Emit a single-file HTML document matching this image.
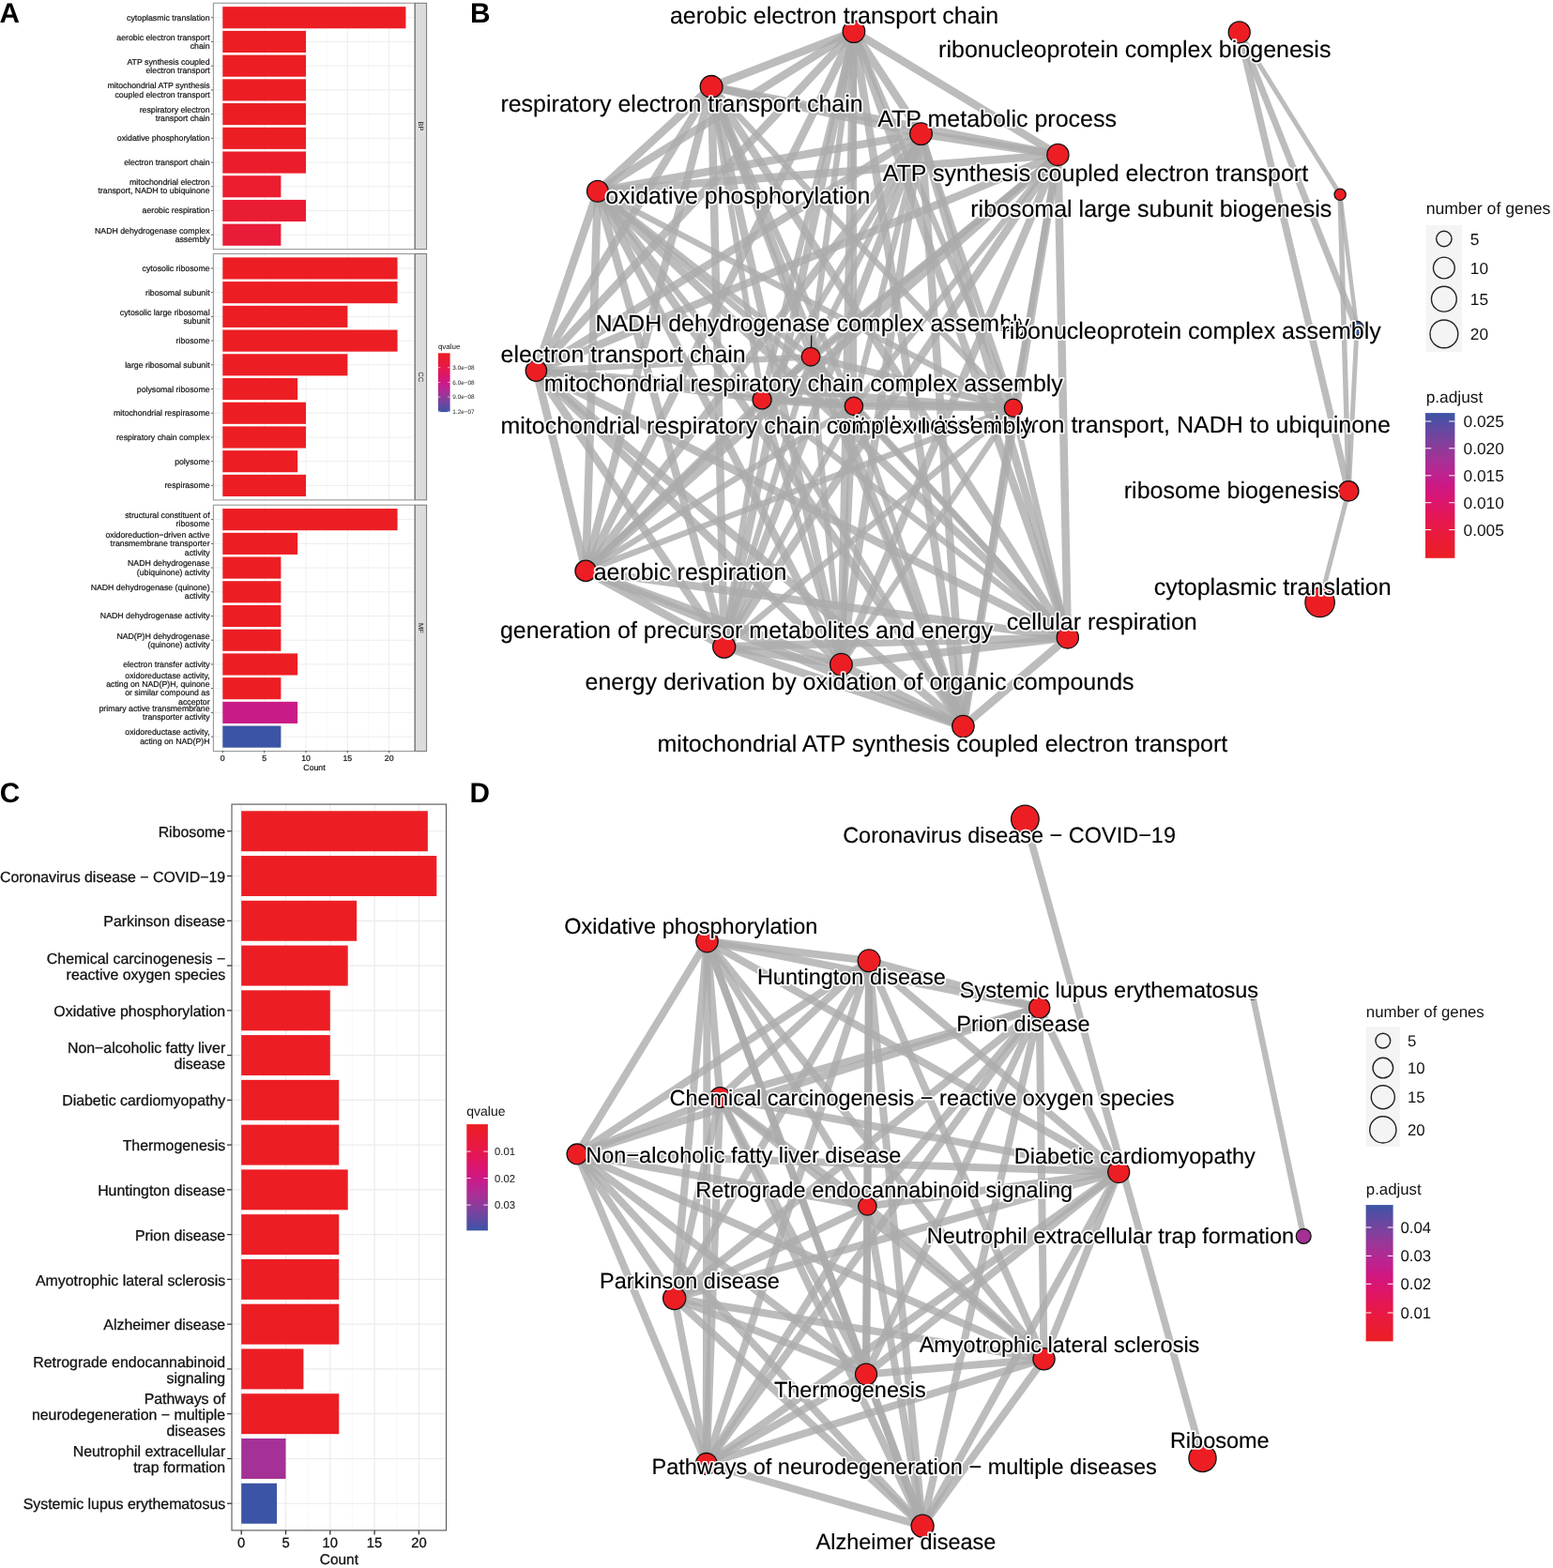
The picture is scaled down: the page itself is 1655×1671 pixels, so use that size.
<!DOCTYPE html>
<html><head><meta charset="utf-8"><title>Enrichment figure</title>
<style>html,body{margin:0;padding:0;background:#fff;}svg{display:block;}</style>
</head><body>
<svg width="1655" height="1671" viewBox="0 0 1655 1671" font-family="'Liberation Sans', sans-serif" text-rendering="geometricPrecision"><defs><linearGradient id="gA" x1="0" y1="0" x2="0" y2="1"><stop offset="0.00" stop-color="#ec1e24"/><stop offset="0.10" stop-color="#ea1c32"/><stop offset="0.20" stop-color="#e81942"/><stop offset="0.30" stop-color="#e31658"/><stop offset="0.40" stop-color="#da156e"/><stop offset="0.50" stop-color="#cd1884"/><stop offset="0.60" stop-color="#b82692"/><stop offset="0.70" stop-color="#9f3497"/><stop offset="0.80" stop-color="#80409d"/><stop offset="0.90" stop-color="#5f4aa2"/><stop offset="1.00" stop-color="#3b54a5"/></linearGradient><linearGradient id="gC" x1="0" y1="0" x2="0" y2="1"><stop offset="0.00" stop-color="#ec1e24"/><stop offset="0.10" stop-color="#ea1c32"/><stop offset="0.20" stop-color="#e81942"/><stop offset="0.30" stop-color="#e31658"/><stop offset="0.40" stop-color="#da156e"/><stop offset="0.50" stop-color="#cd1884"/><stop offset="0.60" stop-color="#b82692"/><stop offset="0.70" stop-color="#9f3497"/><stop offset="0.80" stop-color="#80409d"/><stop offset="0.90" stop-color="#5f4aa2"/><stop offset="1.00" stop-color="#3b54a5"/></linearGradient><linearGradient id="gB" x1="0" y1="0" x2="0" y2="1"><stop offset="0.00" stop-color="#3b54a5"/><stop offset="0.10" stop-color="#5f4aa2"/><stop offset="0.20" stop-color="#80409d"/><stop offset="0.30" stop-color="#9f3497"/><stop offset="0.40" stop-color="#b82692"/><stop offset="0.50" stop-color="#cd1884"/><stop offset="0.60" stop-color="#da156e"/><stop offset="0.70" stop-color="#e31658"/><stop offset="0.80" stop-color="#e81942"/><stop offset="0.90" stop-color="#ea1c32"/><stop offset="1.00" stop-color="#ec1e24"/></linearGradient><linearGradient id="gD" x1="0" y1="0" x2="0" y2="1"><stop offset="0.00" stop-color="#3b54a5"/><stop offset="0.10" stop-color="#5f4aa2"/><stop offset="0.20" stop-color="#80409d"/><stop offset="0.30" stop-color="#9f3497"/><stop offset="0.40" stop-color="#b82692"/><stop offset="0.50" stop-color="#cd1884"/><stop offset="0.60" stop-color="#da156e"/><stop offset="0.70" stop-color="#e31658"/><stop offset="0.80" stop-color="#e81942"/><stop offset="0.90" stop-color="#ea1c32"/><stop offset="1.00" stop-color="#ec1e24"/></linearGradient></defs><rect width="1655" height="1671" fill="#fff"/><text x="-0.50" y="23.90" font-size="29.8" font-weight="bold">A</text>
<text x="501.00" y="23.90" font-size="29.8" font-weight="bold">B</text>
<text x="-0.30" y="854.70" font-size="29.8" font-weight="bold">C</text>
<text x="500.50" y="854.70" font-size="29.8" font-weight="bold">D</text>
<rect x="227.40" y="3.30" width="214.50" height="262.34" fill="#fff"/>
<line x1="259.48" y1="3.30" x2="259.48" y2="265.64" stroke="#f2f2f2" stroke-width="0.5"/>
<line x1="303.82" y1="3.30" x2="303.82" y2="265.64" stroke="#f2f2f2" stroke-width="0.5"/>
<line x1="348.18" y1="3.30" x2="348.18" y2="265.64" stroke="#f2f2f2" stroke-width="0.5"/>
<line x1="392.52" y1="3.30" x2="392.52" y2="265.64" stroke="#f2f2f2" stroke-width="0.5"/>
<line x1="436.88" y1="3.30" x2="436.88" y2="265.64" stroke="#f2f2f2" stroke-width="0.5"/>
<line x1="237.30" y1="3.30" x2="237.30" y2="265.64" stroke="#ebebeb" stroke-width="0.9"/>
<line x1="281.65" y1="3.30" x2="281.65" y2="265.64" stroke="#ebebeb" stroke-width="0.9"/>
<line x1="326.00" y1="3.30" x2="326.00" y2="265.64" stroke="#ebebeb" stroke-width="0.9"/>
<line x1="370.35" y1="3.30" x2="370.35" y2="265.64" stroke="#ebebeb" stroke-width="0.9"/>
<line x1="414.70" y1="3.30" x2="414.70" y2="265.64" stroke="#ebebeb" stroke-width="0.9"/>
<line x1="227.40" y1="18.73" x2="441.90" y2="18.73" stroke="#ebebeb" stroke-width="0.9"/>
<line x1="227.40" y1="44.45" x2="441.90" y2="44.45" stroke="#ebebeb" stroke-width="0.9"/>
<line x1="227.40" y1="70.17" x2="441.90" y2="70.17" stroke="#ebebeb" stroke-width="0.9"/>
<line x1="227.40" y1="95.89" x2="441.90" y2="95.89" stroke="#ebebeb" stroke-width="0.9"/>
<line x1="227.40" y1="121.61" x2="441.90" y2="121.61" stroke="#ebebeb" stroke-width="0.9"/>
<line x1="227.40" y1="147.33" x2="441.90" y2="147.33" stroke="#ebebeb" stroke-width="0.9"/>
<line x1="227.40" y1="173.05" x2="441.90" y2="173.05" stroke="#ebebeb" stroke-width="0.9"/>
<line x1="227.40" y1="198.77" x2="441.90" y2="198.77" stroke="#ebebeb" stroke-width="0.9"/>
<line x1="227.40" y1="224.49" x2="441.90" y2="224.49" stroke="#ebebeb" stroke-width="0.9"/>
<line x1="227.40" y1="250.21" x2="441.90" y2="250.21" stroke="#ebebeb" stroke-width="0.9"/>
<rect x="237.30" y="7.16" width="195.14" height="23.15" fill="#ec1e24"/>
<text x="223.60" y="21.71" font-size="8.75" stroke="#111" stroke-width="0.2" text-anchor="end" fill="#111">cytoplasmic translation</text>
<line x1="225.00" y1="18.73" x2="227.40" y2="18.73" stroke="#333" stroke-width="0.8"/>
<rect x="237.30" y="32.88" width="88.70" height="23.15" fill="#ec1e24"/>
<text x="223.60" y="42.78" font-size="8.75" stroke="#111" stroke-width="0.2" text-anchor="end" fill="#111">aerobic electron transport</text>
<text x="223.60" y="52.08" font-size="8.75" stroke="#111" stroke-width="0.2" text-anchor="end" fill="#111">chain</text>
<line x1="225.00" y1="44.45" x2="227.40" y2="44.45" stroke="#333" stroke-width="0.8"/>
<rect x="237.30" y="58.60" width="88.70" height="23.15" fill="#ec1e24"/>
<text x="223.60" y="68.50" font-size="8.75" stroke="#111" stroke-width="0.2" text-anchor="end" fill="#111">ATP synthesis coupled</text>
<text x="223.60" y="77.80" font-size="8.75" stroke="#111" stroke-width="0.2" text-anchor="end" fill="#111">electron transport</text>
<line x1="225.00" y1="70.17" x2="227.40" y2="70.17" stroke="#333" stroke-width="0.8"/>
<rect x="237.30" y="84.32" width="88.70" height="23.15" fill="#ec1e24"/>
<text x="223.60" y="94.22" font-size="8.75" stroke="#111" stroke-width="0.2" text-anchor="end" fill="#111">mitochondrial ATP synthesis</text>
<text x="223.60" y="103.52" font-size="8.75" stroke="#111" stroke-width="0.2" text-anchor="end" fill="#111">coupled electron transport</text>
<line x1="225.00" y1="95.89" x2="227.40" y2="95.89" stroke="#333" stroke-width="0.8"/>
<rect x="237.30" y="110.04" width="88.70" height="23.15" fill="#ec1e24"/>
<text x="223.60" y="119.94" font-size="8.75" stroke="#111" stroke-width="0.2" text-anchor="end" fill="#111">respiratory electron</text>
<text x="223.60" y="129.24" font-size="8.75" stroke="#111" stroke-width="0.2" text-anchor="end" fill="#111">transport chain</text>
<line x1="225.00" y1="121.61" x2="227.40" y2="121.61" stroke="#333" stroke-width="0.8"/>
<rect x="237.30" y="135.76" width="88.70" height="23.15" fill="#ec1e25"/>
<text x="223.60" y="150.31" font-size="8.75" stroke="#111" stroke-width="0.2" text-anchor="end" fill="#111">oxidative phosphorylation</text>
<line x1="225.00" y1="147.33" x2="227.40" y2="147.33" stroke="#333" stroke-width="0.8"/>
<rect x="237.30" y="161.48" width="88.70" height="23.15" fill="#eb1d2b"/>
<text x="223.60" y="176.03" font-size="8.75" stroke="#111" stroke-width="0.2" text-anchor="end" fill="#111">electron transport chain</text>
<line x1="225.00" y1="173.05" x2="227.40" y2="173.05" stroke="#333" stroke-width="0.8"/>
<rect x="237.30" y="187.20" width="62.09" height="23.15" fill="#eb1d2e"/>
<text x="223.60" y="197.10" font-size="8.75" stroke="#111" stroke-width="0.2" text-anchor="end" fill="#111">mitochondrial electron</text>
<text x="223.60" y="206.40" font-size="8.75" stroke="#111" stroke-width="0.2" text-anchor="end" fill="#111">transport, NADH to ubiquinone</text>
<line x1="225.00" y1="198.77" x2="227.40" y2="198.77" stroke="#333" stroke-width="0.8"/>
<rect x="237.30" y="212.92" width="88.70" height="23.15" fill="#ea1c34"/>
<text x="223.60" y="227.47" font-size="8.75" stroke="#111" stroke-width="0.2" text-anchor="end" fill="#111">aerobic respiration</text>
<line x1="225.00" y1="224.49" x2="227.40" y2="224.49" stroke="#333" stroke-width="0.8"/>
<rect x="237.30" y="238.64" width="62.09" height="23.15" fill="#e91b38"/>
<text x="223.60" y="248.54" font-size="8.75" stroke="#111" stroke-width="0.2" text-anchor="end" fill="#111">NADH dehydrogenase complex</text>
<text x="223.60" y="257.84" font-size="8.75" stroke="#111" stroke-width="0.2" text-anchor="end" fill="#111">assembly</text>
<line x1="225.00" y1="250.21" x2="227.40" y2="250.21" stroke="#333" stroke-width="0.8"/>
<rect x="227.40" y="3.30" width="214.50" height="262.34" fill="none" stroke="#999" stroke-width="1.1"/>
<rect x="442.40" y="3.30" width="12.20" height="262.34" fill="#dcdcdc" stroke="#777" stroke-width="1.0"/>
<text x="448.25" y="134.47" font-size="7.5" text-anchor="middle" fill="#1a1a1a" transform="rotate(90 448.25 134.47)" dominant-baseline="central">BP</text>
<rect x="227.40" y="270.50" width="214.50" height="262.34" fill="#fff"/>
<line x1="259.48" y1="270.50" x2="259.48" y2="532.84" stroke="#f2f2f2" stroke-width="0.5"/>
<line x1="303.82" y1="270.50" x2="303.82" y2="532.84" stroke="#f2f2f2" stroke-width="0.5"/>
<line x1="348.18" y1="270.50" x2="348.18" y2="532.84" stroke="#f2f2f2" stroke-width="0.5"/>
<line x1="392.52" y1="270.50" x2="392.52" y2="532.84" stroke="#f2f2f2" stroke-width="0.5"/>
<line x1="436.88" y1="270.50" x2="436.88" y2="532.84" stroke="#f2f2f2" stroke-width="0.5"/>
<line x1="237.30" y1="270.50" x2="237.30" y2="532.84" stroke="#ebebeb" stroke-width="0.9"/>
<line x1="281.65" y1="270.50" x2="281.65" y2="532.84" stroke="#ebebeb" stroke-width="0.9"/>
<line x1="326.00" y1="270.50" x2="326.00" y2="532.84" stroke="#ebebeb" stroke-width="0.9"/>
<line x1="370.35" y1="270.50" x2="370.35" y2="532.84" stroke="#ebebeb" stroke-width="0.9"/>
<line x1="414.70" y1="270.50" x2="414.70" y2="532.84" stroke="#ebebeb" stroke-width="0.9"/>
<line x1="227.40" y1="285.93" x2="441.90" y2="285.93" stroke="#ebebeb" stroke-width="0.9"/>
<line x1="227.40" y1="311.65" x2="441.90" y2="311.65" stroke="#ebebeb" stroke-width="0.9"/>
<line x1="227.40" y1="337.37" x2="441.90" y2="337.37" stroke="#ebebeb" stroke-width="0.9"/>
<line x1="227.40" y1="363.09" x2="441.90" y2="363.09" stroke="#ebebeb" stroke-width="0.9"/>
<line x1="227.40" y1="388.81" x2="441.90" y2="388.81" stroke="#ebebeb" stroke-width="0.9"/>
<line x1="227.40" y1="414.53" x2="441.90" y2="414.53" stroke="#ebebeb" stroke-width="0.9"/>
<line x1="227.40" y1="440.25" x2="441.90" y2="440.25" stroke="#ebebeb" stroke-width="0.9"/>
<line x1="227.40" y1="465.97" x2="441.90" y2="465.97" stroke="#ebebeb" stroke-width="0.9"/>
<line x1="227.40" y1="491.69" x2="441.90" y2="491.69" stroke="#ebebeb" stroke-width="0.9"/>
<line x1="227.40" y1="517.41" x2="441.90" y2="517.41" stroke="#ebebeb" stroke-width="0.9"/>
<rect x="237.30" y="274.36" width="186.27" height="23.15" fill="#ec1e24"/>
<text x="223.60" y="288.91" font-size="8.75" stroke="#111" stroke-width="0.2" text-anchor="end" fill="#111">cytosolic ribosome</text>
<line x1="225.00" y1="285.93" x2="227.40" y2="285.93" stroke="#333" stroke-width="0.8"/>
<rect x="237.30" y="300.08" width="186.27" height="23.15" fill="#ec1e24"/>
<text x="223.60" y="314.63" font-size="8.75" stroke="#111" stroke-width="0.2" text-anchor="end" fill="#111">ribosomal subunit</text>
<line x1="225.00" y1="311.65" x2="227.40" y2="311.65" stroke="#333" stroke-width="0.8"/>
<rect x="237.30" y="325.80" width="133.05" height="23.15" fill="#ec1e24"/>
<text x="223.60" y="335.70" font-size="8.75" stroke="#111" stroke-width="0.2" text-anchor="end" fill="#111">cytosolic large ribosomal</text>
<text x="223.60" y="345.00" font-size="8.75" stroke="#111" stroke-width="0.2" text-anchor="end" fill="#111">subunit</text>
<line x1="225.00" y1="337.37" x2="227.40" y2="337.37" stroke="#333" stroke-width="0.8"/>
<rect x="237.30" y="351.52" width="186.27" height="23.15" fill="#ec1e24"/>
<text x="223.60" y="366.07" font-size="8.75" stroke="#111" stroke-width="0.2" text-anchor="end" fill="#111">ribosome</text>
<line x1="225.00" y1="363.09" x2="227.40" y2="363.09" stroke="#333" stroke-width="0.8"/>
<rect x="237.30" y="377.24" width="133.05" height="23.15" fill="#ec1e24"/>
<text x="223.60" y="391.79" font-size="8.75" stroke="#111" stroke-width="0.2" text-anchor="end" fill="#111">large ribosomal subunit</text>
<line x1="225.00" y1="388.81" x2="227.40" y2="388.81" stroke="#333" stroke-width="0.8"/>
<rect x="237.30" y="402.96" width="79.83" height="23.15" fill="#ec1e24"/>
<text x="223.60" y="417.51" font-size="8.75" stroke="#111" stroke-width="0.2" text-anchor="end" fill="#111">polysomal ribosome</text>
<line x1="225.00" y1="414.53" x2="227.40" y2="414.53" stroke="#333" stroke-width="0.8"/>
<rect x="237.30" y="428.68" width="88.70" height="23.15" fill="#ec1e24"/>
<text x="223.60" y="443.23" font-size="8.75" stroke="#111" stroke-width="0.2" text-anchor="end" fill="#111">mitochondrial respirasome</text>
<line x1="225.00" y1="440.25" x2="227.40" y2="440.25" stroke="#333" stroke-width="0.8"/>
<rect x="237.30" y="454.40" width="88.70" height="23.15" fill="#ec1e24"/>
<text x="223.60" y="468.95" font-size="8.75" stroke="#111" stroke-width="0.2" text-anchor="end" fill="#111">respiratory chain complex</text>
<line x1="225.00" y1="465.97" x2="227.40" y2="465.97" stroke="#333" stroke-width="0.8"/>
<rect x="237.30" y="480.12" width="79.83" height="23.15" fill="#ec1e24"/>
<text x="223.60" y="494.67" font-size="8.75" stroke="#111" stroke-width="0.2" text-anchor="end" fill="#111">polysome</text>
<line x1="225.00" y1="491.69" x2="227.40" y2="491.69" stroke="#333" stroke-width="0.8"/>
<rect x="237.30" y="505.84" width="88.70" height="23.15" fill="#ec1e24"/>
<text x="223.60" y="520.39" font-size="8.75" stroke="#111" stroke-width="0.2" text-anchor="end" fill="#111">respirasome</text>
<line x1="225.00" y1="517.41" x2="227.40" y2="517.41" stroke="#333" stroke-width="0.8"/>
<rect x="227.40" y="270.50" width="214.50" height="262.34" fill="none" stroke="#999" stroke-width="1.1"/>
<rect x="442.40" y="270.50" width="12.20" height="262.34" fill="#dcdcdc" stroke="#777" stroke-width="1.0"/>
<text x="448.25" y="401.67" font-size="7.5" text-anchor="middle" fill="#1a1a1a" transform="rotate(90 448.25 401.67)" dominant-baseline="central">CC</text>
<rect x="227.40" y="538.20" width="214.50" height="262.34" fill="#fff"/>
<line x1="259.48" y1="538.20" x2="259.48" y2="800.54" stroke="#f2f2f2" stroke-width="0.5"/>
<line x1="303.82" y1="538.20" x2="303.82" y2="800.54" stroke="#f2f2f2" stroke-width="0.5"/>
<line x1="348.18" y1="538.20" x2="348.18" y2="800.54" stroke="#f2f2f2" stroke-width="0.5"/>
<line x1="392.52" y1="538.20" x2="392.52" y2="800.54" stroke="#f2f2f2" stroke-width="0.5"/>
<line x1="436.88" y1="538.20" x2="436.88" y2="800.54" stroke="#f2f2f2" stroke-width="0.5"/>
<line x1="237.30" y1="538.20" x2="237.30" y2="800.54" stroke="#ebebeb" stroke-width="0.9"/>
<line x1="281.65" y1="538.20" x2="281.65" y2="800.54" stroke="#ebebeb" stroke-width="0.9"/>
<line x1="326.00" y1="538.20" x2="326.00" y2="800.54" stroke="#ebebeb" stroke-width="0.9"/>
<line x1="370.35" y1="538.20" x2="370.35" y2="800.54" stroke="#ebebeb" stroke-width="0.9"/>
<line x1="414.70" y1="538.20" x2="414.70" y2="800.54" stroke="#ebebeb" stroke-width="0.9"/>
<line x1="227.40" y1="553.63" x2="441.90" y2="553.63" stroke="#ebebeb" stroke-width="0.9"/>
<line x1="227.40" y1="579.35" x2="441.90" y2="579.35" stroke="#ebebeb" stroke-width="0.9"/>
<line x1="227.40" y1="605.07" x2="441.90" y2="605.07" stroke="#ebebeb" stroke-width="0.9"/>
<line x1="227.40" y1="630.79" x2="441.90" y2="630.79" stroke="#ebebeb" stroke-width="0.9"/>
<line x1="227.40" y1="656.51" x2="441.90" y2="656.51" stroke="#ebebeb" stroke-width="0.9"/>
<line x1="227.40" y1="682.23" x2="441.90" y2="682.23" stroke="#ebebeb" stroke-width="0.9"/>
<line x1="227.40" y1="707.95" x2="441.90" y2="707.95" stroke="#ebebeb" stroke-width="0.9"/>
<line x1="227.40" y1="733.67" x2="441.90" y2="733.67" stroke="#ebebeb" stroke-width="0.9"/>
<line x1="227.40" y1="759.39" x2="441.90" y2="759.39" stroke="#ebebeb" stroke-width="0.9"/>
<line x1="227.40" y1="785.11" x2="441.90" y2="785.11" stroke="#ebebeb" stroke-width="0.9"/>
<rect x="237.30" y="542.06" width="186.27" height="23.15" fill="#ec1e24"/>
<text x="223.60" y="551.96" font-size="8.75" stroke="#111" stroke-width="0.2" text-anchor="end" fill="#111">structural constituent of</text>
<text x="223.60" y="561.26" font-size="8.75" stroke="#111" stroke-width="0.2" text-anchor="end" fill="#111">ribosome</text>
<line x1="225.00" y1="553.63" x2="227.40" y2="553.63" stroke="#333" stroke-width="0.8"/>
<rect x="237.30" y="567.78" width="79.83" height="23.15" fill="#ec1e24"/>
<text x="223.60" y="573.03" font-size="8.75" stroke="#111" stroke-width="0.2" text-anchor="end" fill="#111">oxidoreduction−driven active</text>
<text x="223.60" y="582.33" font-size="8.75" stroke="#111" stroke-width="0.2" text-anchor="end" fill="#111">transmembrane transporter</text>
<text x="223.60" y="591.63" font-size="8.75" stroke="#111" stroke-width="0.2" text-anchor="end" fill="#111">activity</text>
<line x1="225.00" y1="579.35" x2="227.40" y2="579.35" stroke="#333" stroke-width="0.8"/>
<rect x="237.30" y="593.50" width="62.09" height="23.15" fill="#ec1e24"/>
<text x="223.60" y="603.40" font-size="8.75" stroke="#111" stroke-width="0.2" text-anchor="end" fill="#111">NADH dehydrogenase</text>
<text x="223.60" y="612.70" font-size="8.75" stroke="#111" stroke-width="0.2" text-anchor="end" fill="#111">(ubiquinone) activity</text>
<line x1="225.00" y1="605.07" x2="227.40" y2="605.07" stroke="#333" stroke-width="0.8"/>
<rect x="237.30" y="619.22" width="62.09" height="23.15" fill="#ec1e24"/>
<text x="223.60" y="629.12" font-size="8.75" stroke="#111" stroke-width="0.2" text-anchor="end" fill="#111">NADH dehydrogenase (quinone)</text>
<text x="223.60" y="638.42" font-size="8.75" stroke="#111" stroke-width="0.2" text-anchor="end" fill="#111">activity</text>
<line x1="225.00" y1="630.79" x2="227.40" y2="630.79" stroke="#333" stroke-width="0.8"/>
<rect x="237.30" y="644.94" width="62.09" height="23.15" fill="#ec1e24"/>
<text x="223.60" y="659.49" font-size="8.75" stroke="#111" stroke-width="0.2" text-anchor="end" fill="#111">NADH dehydrogenase activity</text>
<line x1="225.00" y1="656.51" x2="227.40" y2="656.51" stroke="#333" stroke-width="0.8"/>
<rect x="237.30" y="670.66" width="62.09" height="23.15" fill="#ec1e24"/>
<text x="223.60" y="680.56" font-size="8.75" stroke="#111" stroke-width="0.2" text-anchor="end" fill="#111">NAD(P)H dehydrogenase</text>
<text x="223.60" y="689.86" font-size="8.75" stroke="#111" stroke-width="0.2" text-anchor="end" fill="#111">(quinone) activity</text>
<line x1="225.00" y1="682.23" x2="227.40" y2="682.23" stroke="#333" stroke-width="0.8"/>
<rect x="237.30" y="696.38" width="79.83" height="23.15" fill="#ec1e24"/>
<text x="223.60" y="710.93" font-size="8.75" stroke="#111" stroke-width="0.2" text-anchor="end" fill="#111">electron transfer activity</text>
<line x1="225.00" y1="707.95" x2="227.40" y2="707.95" stroke="#333" stroke-width="0.8"/>
<rect x="237.30" y="722.10" width="62.09" height="23.15" fill="#ec1e24"/>
<text x="223.60" y="722.70" font-size="8.75" stroke="#111" stroke-width="0.2" text-anchor="end" fill="#111">oxidoreductase activity,</text>
<text x="223.60" y="732.00" font-size="8.75" stroke="#111" stroke-width="0.2" text-anchor="end" fill="#111">acting on NAD(P)H, quinone</text>
<text x="223.60" y="741.30" font-size="8.75" stroke="#111" stroke-width="0.2" text-anchor="end" fill="#111">or similar compound as</text>
<text x="223.60" y="750.60" font-size="8.75" stroke="#111" stroke-width="0.2" text-anchor="end" fill="#111">acceptor</text>
<line x1="225.00" y1="733.67" x2="227.40" y2="733.67" stroke="#333" stroke-width="0.8"/>
<rect x="237.30" y="747.82" width="79.83" height="23.15" fill="#c91b87"/>
<text x="223.60" y="757.72" font-size="8.75" stroke="#111" stroke-width="0.2" text-anchor="end" fill="#111">primary active transmembrane</text>
<text x="223.60" y="767.02" font-size="8.75" stroke="#111" stroke-width="0.2" text-anchor="end" fill="#111">transporter activity</text>
<line x1="225.00" y1="759.39" x2="227.40" y2="759.39" stroke="#333" stroke-width="0.8"/>
<rect x="237.30" y="773.54" width="62.09" height="23.15" fill="#3b54a5"/>
<text x="223.60" y="783.44" font-size="8.75" stroke="#111" stroke-width="0.2" text-anchor="end" fill="#111">oxidoreductase activity,</text>
<text x="223.60" y="792.74" font-size="8.75" stroke="#111" stroke-width="0.2" text-anchor="end" fill="#111">acting on NAD(P)H</text>
<line x1="225.00" y1="785.11" x2="227.40" y2="785.11" stroke="#333" stroke-width="0.8"/>
<rect x="227.40" y="538.20" width="214.50" height="262.34" fill="none" stroke="#999" stroke-width="1.1"/>
<rect x="442.40" y="538.20" width="12.20" height="262.34" fill="#dcdcdc" stroke="#777" stroke-width="1.0"/>
<text x="448.25" y="669.37" font-size="7.5" text-anchor="middle" fill="#1a1a1a" transform="rotate(90 448.25 669.37)" dominant-baseline="central">MF</text>
<line x1="237.30" y1="800.00" x2="237.30" y2="802.40" stroke="#333" stroke-width="0.8"/>
<text x="237.30" y="810.90" font-size="8.75" stroke="#111" stroke-width="0.2" text-anchor="middle" fill="#111">0</text>
<line x1="281.65" y1="800.00" x2="281.65" y2="802.40" stroke="#333" stroke-width="0.8"/>
<text x="281.65" y="810.90" font-size="8.75" stroke="#111" stroke-width="0.2" text-anchor="middle" fill="#111">5</text>
<line x1="326.00" y1="800.00" x2="326.00" y2="802.40" stroke="#333" stroke-width="0.8"/>
<text x="326.00" y="810.90" font-size="8.75" stroke="#111" stroke-width="0.2" text-anchor="middle" fill="#111">10</text>
<line x1="370.35" y1="800.00" x2="370.35" y2="802.40" stroke="#333" stroke-width="0.8"/>
<text x="370.35" y="810.90" font-size="8.75" stroke="#111" stroke-width="0.2" text-anchor="middle" fill="#111">15</text>
<line x1="414.70" y1="800.00" x2="414.70" y2="802.40" stroke="#333" stroke-width="0.8"/>
<text x="414.70" y="810.90" font-size="8.75" stroke="#111" stroke-width="0.2" text-anchor="middle" fill="#111">20</text>
<text x="335.00" y="821.20" font-size="8.75" stroke="#111" stroke-width="0.2" text-anchor="middle" fill="#111">Count</text>
<text x="466.90" y="371.60" font-size="8.0" fill="#111">qvalue</text>
<rect x="466.90" y="376.30" width="12.70" height="62.80" fill="url(#gA)"/>
<line x1="466.90" y1="391.70" x2="469.40" y2="391.70" stroke="#fff" stroke-width="0.6"/>
<line x1="477.10" y1="391.70" x2="479.60" y2="391.70" stroke="#fff" stroke-width="0.6"/>
<text x="482.30" y="394.00" font-size="6.4" fill="#222">3.0e−08</text>
<line x1="466.90" y1="407.40" x2="469.40" y2="407.40" stroke="#fff" stroke-width="0.6"/>
<line x1="477.10" y1="407.40" x2="479.60" y2="407.40" stroke="#fff" stroke-width="0.6"/>
<text x="482.30" y="409.70" font-size="6.4" fill="#222">6.0e−08</text>
<line x1="466.90" y1="423.10" x2="469.40" y2="423.10" stroke="#fff" stroke-width="0.6"/>
<line x1="477.10" y1="423.10" x2="479.60" y2="423.10" stroke="#fff" stroke-width="0.6"/>
<text x="482.30" y="425.40" font-size="6.4" fill="#222">9.0e−08</text>
<line x1="466.90" y1="438.40" x2="469.40" y2="438.40" stroke="#fff" stroke-width="0.6"/>
<line x1="477.10" y1="438.40" x2="479.60" y2="438.40" stroke="#fff" stroke-width="0.6"/>
<text x="482.30" y="440.70" font-size="6.4" fill="#222">1.2e−07</text>
<rect x="247.00" y="857.10" width="228.50" height="773.80" fill="#fff"/>
<line x1="280.85" y1="857.10" x2="280.85" y2="1630.90" stroke="#f4f4f4" stroke-width="0.7"/>
<line x1="328.15" y1="857.10" x2="328.15" y2="1630.90" stroke="#f4f4f4" stroke-width="0.7"/>
<line x1="375.45" y1="857.10" x2="375.45" y2="1630.90" stroke="#f4f4f4" stroke-width="0.7"/>
<line x1="422.75" y1="857.10" x2="422.75" y2="1630.90" stroke="#f4f4f4" stroke-width="0.7"/>
<line x1="470.05" y1="857.10" x2="470.05" y2="1630.90" stroke="#f4f4f4" stroke-width="0.7"/>
<line x1="257.20" y1="857.10" x2="257.20" y2="1630.90" stroke="#ebebeb" stroke-width="1.2"/>
<line x1="304.50" y1="857.10" x2="304.50" y2="1630.90" stroke="#ebebeb" stroke-width="1.2"/>
<line x1="351.80" y1="857.10" x2="351.80" y2="1630.90" stroke="#ebebeb" stroke-width="1.2"/>
<line x1="399.10" y1="857.10" x2="399.10" y2="1630.90" stroke="#ebebeb" stroke-width="1.2"/>
<line x1="446.40" y1="857.10" x2="446.40" y2="1630.90" stroke="#ebebeb" stroke-width="1.2"/>
<line x1="247.00" y1="885.76" x2="475.50" y2="885.76" stroke="#ebebeb" stroke-width="1.2"/>
<line x1="247.00" y1="933.52" x2="475.50" y2="933.52" stroke="#ebebeb" stroke-width="1.2"/>
<line x1="247.00" y1="981.29" x2="475.50" y2="981.29" stroke="#ebebeb" stroke-width="1.2"/>
<line x1="247.00" y1="1029.06" x2="475.50" y2="1029.06" stroke="#ebebeb" stroke-width="1.2"/>
<line x1="247.00" y1="1076.82" x2="475.50" y2="1076.82" stroke="#ebebeb" stroke-width="1.2"/>
<line x1="247.00" y1="1124.59" x2="475.50" y2="1124.59" stroke="#ebebeb" stroke-width="1.2"/>
<line x1="247.00" y1="1172.35" x2="475.50" y2="1172.35" stroke="#ebebeb" stroke-width="1.2"/>
<line x1="247.00" y1="1220.12" x2="475.50" y2="1220.12" stroke="#ebebeb" stroke-width="1.2"/>
<line x1="247.00" y1="1267.88" x2="475.50" y2="1267.88" stroke="#ebebeb" stroke-width="1.2"/>
<line x1="247.00" y1="1315.65" x2="475.50" y2="1315.65" stroke="#ebebeb" stroke-width="1.2"/>
<line x1="247.00" y1="1363.41" x2="475.50" y2="1363.41" stroke="#ebebeb" stroke-width="1.2"/>
<line x1="247.00" y1="1411.18" x2="475.50" y2="1411.18" stroke="#ebebeb" stroke-width="1.2"/>
<line x1="247.00" y1="1458.94" x2="475.50" y2="1458.94" stroke="#ebebeb" stroke-width="1.2"/>
<line x1="247.00" y1="1506.71" x2="475.50" y2="1506.71" stroke="#ebebeb" stroke-width="1.2"/>
<line x1="247.00" y1="1554.48" x2="475.50" y2="1554.48" stroke="#ebebeb" stroke-width="1.2"/>
<line x1="247.00" y1="1602.24" x2="475.50" y2="1602.24" stroke="#ebebeb" stroke-width="1.2"/>
<rect x="257.20" y="864.26" width="198.66" height="42.99" fill="#ec1e24"/>
<text x="240.20" y="891.88" font-size="15.9" stroke="#111" stroke-width="0.3" text-anchor="end" fill="#111">Ribosome</text>
<line x1="242.00" y1="885.76" x2="247.00" y2="885.76" stroke="#333" stroke-width="1.3"/>
<rect x="257.20" y="912.03" width="208.12" height="42.99" fill="#ec1e24"/>
<text x="240.20" y="939.65" font-size="15.9" stroke="#111" stroke-width="0.3" text-anchor="end" fill="#111">Coronavirus disease − COVID−19</text>
<line x1="242.00" y1="933.52" x2="247.00" y2="933.52" stroke="#333" stroke-width="1.3"/>
<rect x="257.20" y="959.80" width="122.98" height="42.99" fill="#ec1e24"/>
<text x="240.20" y="987.41" font-size="15.9" stroke="#111" stroke-width="0.3" text-anchor="end" fill="#111">Parkinson disease</text>
<line x1="242.00" y1="981.29" x2="247.00" y2="981.29" stroke="#333" stroke-width="1.3"/>
<rect x="257.20" y="1007.56" width="113.52" height="42.99" fill="#ec1e24"/>
<text x="240.20" y="1026.73" font-size="15.9" stroke="#111" stroke-width="0.3" text-anchor="end" fill="#111">Chemical carcinogenesis −</text>
<text x="240.20" y="1043.63" font-size="15.9" stroke="#111" stroke-width="0.3" text-anchor="end" fill="#111">reactive oxygen species</text>
<line x1="242.00" y1="1029.06" x2="247.00" y2="1029.06" stroke="#333" stroke-width="1.3"/>
<rect x="257.20" y="1055.33" width="94.60" height="42.99" fill="#ec1e24"/>
<text x="240.20" y="1082.94" font-size="15.9" stroke="#111" stroke-width="0.3" text-anchor="end" fill="#111">Oxidative phosphorylation</text>
<line x1="242.00" y1="1076.82" x2="247.00" y2="1076.82" stroke="#333" stroke-width="1.3"/>
<rect x="257.20" y="1103.09" width="94.60" height="42.99" fill="#ec1e24"/>
<text x="240.20" y="1122.26" font-size="15.9" stroke="#111" stroke-width="0.3" text-anchor="end" fill="#111">Non−alcoholic fatty liver</text>
<text x="240.20" y="1139.16" font-size="15.9" stroke="#111" stroke-width="0.3" text-anchor="end" fill="#111">disease</text>
<line x1="242.00" y1="1124.59" x2="247.00" y2="1124.59" stroke="#333" stroke-width="1.3"/>
<rect x="257.20" y="1150.86" width="104.06" height="42.99" fill="#ec1e24"/>
<text x="240.20" y="1178.48" font-size="15.9" stroke="#111" stroke-width="0.3" text-anchor="end" fill="#111">Diabetic cardiomyopathy</text>
<line x1="242.00" y1="1172.35" x2="247.00" y2="1172.35" stroke="#333" stroke-width="1.3"/>
<rect x="257.20" y="1198.62" width="104.06" height="42.99" fill="#ec1e24"/>
<text x="240.20" y="1226.24" font-size="15.9" stroke="#111" stroke-width="0.3" text-anchor="end" fill="#111">Thermogenesis</text>
<line x1="242.00" y1="1220.12" x2="247.00" y2="1220.12" stroke="#333" stroke-width="1.3"/>
<rect x="257.20" y="1246.39" width="113.52" height="42.99" fill="#ec1e24"/>
<text x="240.20" y="1274.01" font-size="15.9" stroke="#111" stroke-width="0.3" text-anchor="end" fill="#111">Huntington disease</text>
<line x1="242.00" y1="1267.88" x2="247.00" y2="1267.88" stroke="#333" stroke-width="1.3"/>
<rect x="257.20" y="1294.15" width="104.06" height="42.99" fill="#ec1e24"/>
<text x="240.20" y="1321.77" font-size="15.9" stroke="#111" stroke-width="0.3" text-anchor="end" fill="#111">Prion disease</text>
<line x1="242.00" y1="1315.65" x2="247.00" y2="1315.65" stroke="#333" stroke-width="1.3"/>
<rect x="257.20" y="1341.92" width="104.06" height="42.99" fill="#ec1e24"/>
<text x="240.20" y="1369.54" font-size="15.9" stroke="#111" stroke-width="0.3" text-anchor="end" fill="#111">Amyotrophic lateral sclerosis</text>
<line x1="242.00" y1="1363.41" x2="247.00" y2="1363.41" stroke="#333" stroke-width="1.3"/>
<rect x="257.20" y="1389.68" width="104.06" height="42.99" fill="#ec1e24"/>
<text x="240.20" y="1417.30" font-size="15.9" stroke="#111" stroke-width="0.3" text-anchor="end" fill="#111">Alzheimer disease</text>
<line x1="242.00" y1="1411.18" x2="247.00" y2="1411.18" stroke="#333" stroke-width="1.3"/>
<rect x="257.20" y="1437.45" width="66.22" height="42.99" fill="#ec1e24"/>
<text x="240.20" y="1456.62" font-size="15.9" stroke="#111" stroke-width="0.3" text-anchor="end" fill="#111">Retrograde endocannabinoid</text>
<text x="240.20" y="1473.52" font-size="15.9" stroke="#111" stroke-width="0.3" text-anchor="end" fill="#111">signaling</text>
<line x1="242.00" y1="1458.94" x2="247.00" y2="1458.94" stroke="#333" stroke-width="1.3"/>
<rect x="257.20" y="1485.22" width="104.06" height="42.99" fill="#ec1e24"/>
<text x="240.20" y="1495.93" font-size="15.9" stroke="#111" stroke-width="0.3" text-anchor="end" fill="#111">Pathways of</text>
<text x="240.20" y="1512.83" font-size="15.9" stroke="#111" stroke-width="0.3" text-anchor="end" fill="#111">neurodegeneration − multiple</text>
<text x="240.20" y="1529.73" font-size="15.9" stroke="#111" stroke-width="0.3" text-anchor="end" fill="#111">diseases</text>
<line x1="242.00" y1="1506.71" x2="247.00" y2="1506.71" stroke="#333" stroke-width="1.3"/>
<rect x="257.20" y="1532.98" width="47.30" height="42.99" fill="#a43196"/>
<text x="240.20" y="1552.15" font-size="15.9" stroke="#111" stroke-width="0.3" text-anchor="end" fill="#111">Neutrophil extracellular</text>
<text x="240.20" y="1569.05" font-size="15.9" stroke="#111" stroke-width="0.3" text-anchor="end" fill="#111">trap formation</text>
<line x1="242.00" y1="1554.48" x2="247.00" y2="1554.48" stroke="#333" stroke-width="1.3"/>
<rect x="257.20" y="1580.75" width="37.84" height="42.99" fill="#3b54a5"/>
<text x="240.20" y="1608.36" font-size="15.9" stroke="#111" stroke-width="0.3" text-anchor="end" fill="#111">Systemic lupus erythematosus</text>
<line x1="242.00" y1="1602.24" x2="247.00" y2="1602.24" stroke="#333" stroke-width="1.3"/>
<rect x="247.00" y="857.10" width="228.50" height="773.80" fill="none" stroke="#555" stroke-width="1.1"/>
<line x1="257.20" y1="1630.90" x2="257.20" y2="1635.40" stroke="#333" stroke-width="1.3"/>
<text x="257.20" y="1649.00" font-size="14.8" stroke="#111" stroke-width="0.3" text-anchor="middle" fill="#111">0</text>
<line x1="304.50" y1="1630.90" x2="304.50" y2="1635.40" stroke="#333" stroke-width="1.3"/>
<text x="304.50" y="1649.00" font-size="14.8" stroke="#111" stroke-width="0.3" text-anchor="middle" fill="#111">5</text>
<line x1="351.80" y1="1630.90" x2="351.80" y2="1635.40" stroke="#333" stroke-width="1.3"/>
<text x="351.80" y="1649.00" font-size="14.8" stroke="#111" stroke-width="0.3" text-anchor="middle" fill="#111">10</text>
<line x1="399.10" y1="1630.90" x2="399.10" y2="1635.40" stroke="#333" stroke-width="1.3"/>
<text x="399.10" y="1649.00" font-size="14.8" stroke="#111" stroke-width="0.3" text-anchor="middle" fill="#111">15</text>
<line x1="446.40" y1="1630.90" x2="446.40" y2="1635.40" stroke="#333" stroke-width="1.3"/>
<text x="446.40" y="1649.00" font-size="14.8" stroke="#111" stroke-width="0.3" text-anchor="middle" fill="#111">20</text>
<text x="361.40" y="1667.40" font-size="15.4" stroke="#111" stroke-width="0.3" text-anchor="middle" fill="#111">Count</text>
<text x="497.30" y="1188.50" font-size="14.0" fill="#111">qvalue</text>
<rect x="497.30" y="1198.10" width="22.60" height="113.30" fill="url(#gC)"/>
<line x1="497.30" y1="1227.10" x2="501.80" y2="1227.10" stroke="#fff" stroke-width="0.9"/>
<line x1="515.40" y1="1227.10" x2="519.90" y2="1227.10" stroke="#fff" stroke-width="0.9"/>
<text x="527.00" y="1231.20" font-size="11.4" fill="#111">0.01</text>
<line x1="497.30" y1="1255.60" x2="501.80" y2="1255.60" stroke="#fff" stroke-width="0.9"/>
<line x1="515.40" y1="1255.60" x2="519.90" y2="1255.60" stroke="#fff" stroke-width="0.9"/>
<text x="527.00" y="1259.70" font-size="11.4" fill="#111">0.02</text>
<line x1="497.30" y1="1284.10" x2="501.80" y2="1284.10" stroke="#fff" stroke-width="0.9"/>
<line x1="515.40" y1="1284.10" x2="519.90" y2="1284.10" stroke="#fff" stroke-width="0.9"/>
<text x="527.00" y="1288.20" font-size="11.4" fill="#111">0.03</text>
<g stroke="#ababab" stroke-opacity="0.8" stroke-linecap="butt"><line x1="909.9" y1="33.6" x2="758.1" y2="92.4" stroke-width="8.5"/><line x1="909.9" y1="33.6" x2="981.5" y2="142.6" stroke-width="8.5"/><line x1="909.9" y1="33.6" x2="1127.4" y2="164.9" stroke-width="8.5"/><line x1="909.9" y1="33.6" x2="636.9" y2="203.8" stroke-width="8.5"/><line x1="909.9" y1="33.6" x2="864.0" y2="380.2" stroke-width="6.5"/><line x1="909.9" y1="33.6" x2="571.4" y2="395.1" stroke-width="8.5"/><line x1="909.9" y1="33.6" x2="812.1" y2="425.9" stroke-width="6.5"/><line x1="909.9" y1="33.6" x2="909.9" y2="432.8" stroke-width="6.5"/><line x1="909.9" y1="33.6" x2="1079.9" y2="434.7" stroke-width="6.5"/><line x1="909.9" y1="33.6" x2="624.2" y2="608.4" stroke-width="8.5"/><line x1="909.9" y1="33.6" x2="771.7" y2="689.2" stroke-width="8.5"/><line x1="909.9" y1="33.6" x2="896.4" y2="708.2" stroke-width="8.5"/><line x1="909.9" y1="33.6" x2="1137.8" y2="679.4" stroke-width="8.5"/><line x1="909.9" y1="33.6" x2="1026.4" y2="774.1" stroke-width="8.5"/><line x1="758.1" y1="92.4" x2="981.5" y2="142.6" stroke-width="8.5"/><line x1="758.1" y1="92.4" x2="1127.4" y2="164.9" stroke-width="8.5"/><line x1="758.1" y1="92.4" x2="636.9" y2="203.8" stroke-width="8.5"/><line x1="758.1" y1="92.4" x2="864.0" y2="380.2" stroke-width="6.5"/><line x1="758.1" y1="92.4" x2="571.4" y2="395.1" stroke-width="8.5"/><line x1="758.1" y1="92.4" x2="812.1" y2="425.9" stroke-width="6.5"/><line x1="758.1" y1="92.4" x2="909.9" y2="432.8" stroke-width="6.5"/><line x1="758.1" y1="92.4" x2="1079.9" y2="434.7" stroke-width="6.5"/><line x1="758.1" y1="92.4" x2="624.2" y2="608.4" stroke-width="8.5"/><line x1="758.1" y1="92.4" x2="771.7" y2="689.2" stroke-width="8.5"/><line x1="758.1" y1="92.4" x2="896.4" y2="708.2" stroke-width="8.5"/><line x1="758.1" y1="92.4" x2="1137.8" y2="679.4" stroke-width="8.5"/><line x1="758.1" y1="92.4" x2="1026.4" y2="774.1" stroke-width="8.5"/><line x1="981.5" y1="142.6" x2="1127.4" y2="164.9" stroke-width="8.5"/><line x1="981.5" y1="142.6" x2="636.9" y2="203.8" stroke-width="8.5"/><line x1="981.5" y1="142.6" x2="864.0" y2="380.2" stroke-width="6.5"/><line x1="981.5" y1="142.6" x2="571.4" y2="395.1" stroke-width="8.5"/><line x1="981.5" y1="142.6" x2="812.1" y2="425.9" stroke-width="6.5"/><line x1="981.5" y1="142.6" x2="909.9" y2="432.8" stroke-width="6.5"/><line x1="981.5" y1="142.6" x2="1079.9" y2="434.7" stroke-width="6.5"/><line x1="981.5" y1="142.6" x2="624.2" y2="608.4" stroke-width="8.5"/><line x1="981.5" y1="142.6" x2="771.7" y2="689.2" stroke-width="8.5"/><line x1="981.5" y1="142.6" x2="896.4" y2="708.2" stroke-width="8.5"/><line x1="981.5" y1="142.6" x2="1137.8" y2="679.4" stroke-width="8.5"/><line x1="981.5" y1="142.6" x2="1026.4" y2="774.1" stroke-width="8.5"/><line x1="1127.4" y1="164.9" x2="636.9" y2="203.8" stroke-width="8.5"/><line x1="1127.4" y1="164.9" x2="864.0" y2="380.2" stroke-width="6.5"/><line x1="1127.4" y1="164.9" x2="571.4" y2="395.1" stroke-width="8.5"/><line x1="1127.4" y1="164.9" x2="812.1" y2="425.9" stroke-width="6.5"/><line x1="1127.4" y1="164.9" x2="909.9" y2="432.8" stroke-width="6.5"/><line x1="1127.4" y1="164.9" x2="1079.9" y2="434.7" stroke-width="6.5"/><line x1="1127.4" y1="164.9" x2="624.2" y2="608.4" stroke-width="8.5"/><line x1="1127.4" y1="164.9" x2="771.7" y2="689.2" stroke-width="8.5"/><line x1="1127.4" y1="164.9" x2="896.4" y2="708.2" stroke-width="8.5"/><line x1="1127.4" y1="164.9" x2="1137.8" y2="679.4" stroke-width="8.5"/><line x1="1127.4" y1="164.9" x2="1026.4" y2="774.1" stroke-width="8.5"/><line x1="636.9" y1="203.8" x2="864.0" y2="380.2" stroke-width="6.5"/><line x1="636.9" y1="203.8" x2="571.4" y2="395.1" stroke-width="8.5"/><line x1="636.9" y1="203.8" x2="812.1" y2="425.9" stroke-width="6.5"/><line x1="636.9" y1="203.8" x2="909.9" y2="432.8" stroke-width="6.5"/><line x1="636.9" y1="203.8" x2="1079.9" y2="434.7" stroke-width="6.5"/><line x1="636.9" y1="203.8" x2="624.2" y2="608.4" stroke-width="8.5"/><line x1="636.9" y1="203.8" x2="771.7" y2="689.2" stroke-width="8.5"/><line x1="636.9" y1="203.8" x2="896.4" y2="708.2" stroke-width="8.5"/><line x1="636.9" y1="203.8" x2="1137.8" y2="679.4" stroke-width="8.5"/><line x1="636.9" y1="203.8" x2="1026.4" y2="774.1" stroke-width="8.5"/><line x1="864.0" y1="380.2" x2="571.4" y2="395.1" stroke-width="6.5"/><line x1="864.0" y1="380.2" x2="812.1" y2="425.9" stroke-width="7.5"/><line x1="864.0" y1="380.2" x2="909.9" y2="432.8" stroke-width="7.5"/><line x1="864.0" y1="380.2" x2="1079.9" y2="434.7" stroke-width="7.5"/><line x1="864.0" y1="380.2" x2="624.2" y2="608.4" stroke-width="6.5"/><line x1="864.0" y1="380.2" x2="771.7" y2="689.2" stroke-width="6.5"/><line x1="864.0" y1="380.2" x2="896.4" y2="708.2" stroke-width="6.5"/><line x1="864.0" y1="380.2" x2="1137.8" y2="679.4" stroke-width="6.5"/><line x1="864.0" y1="380.2" x2="1026.4" y2="774.1" stroke-width="6.5"/><line x1="571.4" y1="395.1" x2="812.1" y2="425.9" stroke-width="6.5"/><line x1="571.4" y1="395.1" x2="909.9" y2="432.8" stroke-width="6.5"/><line x1="571.4" y1="395.1" x2="1079.9" y2="434.7" stroke-width="6.5"/><line x1="571.4" y1="395.1" x2="624.2" y2="608.4" stroke-width="8.5"/><line x1="571.4" y1="395.1" x2="771.7" y2="689.2" stroke-width="8.5"/><line x1="571.4" y1="395.1" x2="896.4" y2="708.2" stroke-width="8.5"/><line x1="571.4" y1="395.1" x2="1137.8" y2="679.4" stroke-width="8.5"/><line x1="571.4" y1="395.1" x2="1026.4" y2="774.1" stroke-width="8.5"/><line x1="812.1" y1="425.9" x2="909.9" y2="432.8" stroke-width="7.5"/><line x1="812.1" y1="425.9" x2="1079.9" y2="434.7" stroke-width="7.5"/><line x1="812.1" y1="425.9" x2="624.2" y2="608.4" stroke-width="6.5"/><line x1="812.1" y1="425.9" x2="771.7" y2="689.2" stroke-width="6.5"/><line x1="812.1" y1="425.9" x2="896.4" y2="708.2" stroke-width="6.5"/><line x1="812.1" y1="425.9" x2="1137.8" y2="679.4" stroke-width="6.5"/><line x1="812.1" y1="425.9" x2="1026.4" y2="774.1" stroke-width="6.5"/><line x1="909.9" y1="432.8" x2="1079.9" y2="434.7" stroke-width="7.5"/><line x1="909.9" y1="432.8" x2="624.2" y2="608.4" stroke-width="6.5"/><line x1="909.9" y1="432.8" x2="771.7" y2="689.2" stroke-width="6.5"/><line x1="909.9" y1="432.8" x2="896.4" y2="708.2" stroke-width="6.5"/><line x1="909.9" y1="432.8" x2="1137.8" y2="679.4" stroke-width="6.5"/><line x1="909.9" y1="432.8" x2="1026.4" y2="774.1" stroke-width="6.5"/><line x1="1079.9" y1="434.7" x2="624.2" y2="608.4" stroke-width="6.5"/><line x1="1079.9" y1="434.7" x2="771.7" y2="689.2" stroke-width="6.5"/><line x1="1079.9" y1="434.7" x2="896.4" y2="708.2" stroke-width="6.5"/><line x1="1079.9" y1="434.7" x2="1137.8" y2="679.4" stroke-width="6.5"/><line x1="1079.9" y1="434.7" x2="1026.4" y2="774.1" stroke-width="6.5"/><line x1="624.2" y1="608.4" x2="771.7" y2="689.2" stroke-width="8.5"/><line x1="624.2" y1="608.4" x2="896.4" y2="708.2" stroke-width="8.5"/><line x1="624.2" y1="608.4" x2="1137.8" y2="679.4" stroke-width="8.5"/><line x1="624.2" y1="608.4" x2="1026.4" y2="774.1" stroke-width="8.5"/><line x1="771.7" y1="689.2" x2="896.4" y2="708.2" stroke-width="8.5"/><line x1="771.7" y1="689.2" x2="1137.8" y2="679.4" stroke-width="8.5"/><line x1="771.7" y1="689.2" x2="1026.4" y2="774.1" stroke-width="8.5"/><line x1="896.4" y1="708.2" x2="1137.8" y2="679.4" stroke-width="8.5"/><line x1="896.4" y1="708.2" x2="1026.4" y2="774.1" stroke-width="8.5"/><line x1="1137.8" y1="679.4" x2="1026.4" y2="774.1" stroke-width="8.5"/><line x1="1320.7" y1="34.4" x2="1428.1" y2="207.3" stroke-width="5"/><line x1="1320.7" y1="34.4" x2="1446.0" y2="349.8" stroke-width="7"/><line x1="1320.7" y1="34.4" x2="1437.2" y2="523.3" stroke-width="7.5"/><line x1="1428.1" y1="207.3" x2="1446.0" y2="349.8" stroke-width="4.5"/><line x1="1428.1" y1="207.3" x2="1437.2" y2="523.3" stroke-width="5.5"/><line x1="1446.0" y1="349.8" x2="1437.2" y2="523.3" stroke-width="5"/><line x1="1437.2" y1="523.3" x2="1406.6" y2="642.0" stroke-width="5"/></g>
<line x1="864.80" y1="357.50" x2="864.50" y2="378.00" stroke="#000" stroke-width="1.1"/>
<circle cx="909.90" cy="33.60" r="11.80" fill="#ec1e24" stroke="#111" stroke-width="1.3"/>
<circle cx="758.10" cy="92.40" r="11.90" fill="#ec1e24" stroke="#111" stroke-width="1.3"/>
<circle cx="981.50" cy="142.60" r="11.80" fill="#ec1e24" stroke="#111" stroke-width="1.3"/>
<circle cx="1127.40" cy="164.90" r="11.60" fill="#ec1e24" stroke="#111" stroke-width="1.3"/>
<circle cx="636.90" cy="203.80" r="11.40" fill="#ec1e24" stroke="#111" stroke-width="1.3"/>
<circle cx="864.00" cy="380.20" r="9.80" fill="#ec1e24" stroke="#111" stroke-width="1.3"/>
<circle cx="571.40" cy="395.10" r="11.20" fill="#ec1e24" stroke="#111" stroke-width="1.3"/>
<circle cx="812.10" cy="425.90" r="10.00" fill="#ec1e24" stroke="#111" stroke-width="1.3"/>
<circle cx="909.90" cy="432.80" r="9.70" fill="#ec1e24" stroke="#111" stroke-width="1.3"/>
<circle cx="1079.90" cy="434.70" r="9.60" fill="#ec1e24" stroke="#111" stroke-width="1.3"/>
<circle cx="624.20" cy="608.40" r="11.20" fill="#ec1e24" stroke="#111" stroke-width="1.3"/>
<circle cx="771.70" cy="689.20" r="12.00" fill="#ec1e24" stroke="#111" stroke-width="1.3"/>
<circle cx="896.40" cy="708.20" r="11.80" fill="#ec1e24" stroke="#111" stroke-width="1.3"/>
<circle cx="1137.80" cy="679.40" r="11.60" fill="#ec1e24" stroke="#111" stroke-width="1.3"/>
<circle cx="1026.40" cy="774.10" r="11.70" fill="#ec1e24" stroke="#111" stroke-width="1.3"/>
<circle cx="1320.70" cy="34.40" r="11.50" fill="#ec1e24" stroke="#111" stroke-width="1.3"/>
<circle cx="1428.10" cy="207.30" r="6.10" fill="#ec1e24" stroke="#111" stroke-width="1.3"/>
<circle cx="1446.00" cy="349.80" r="7.30" fill="#3b54a5" stroke="#111" stroke-width="1.3"/>
<circle cx="1437.20" cy="523.30" r="10.70" fill="#ec1e24" stroke="#111" stroke-width="1.3"/>
<circle cx="1406.60" cy="642.00" r="15.70" fill="#ec1e24" stroke="#111" stroke-width="1.3"/>
<text x="889.00" y="24.50" font-size="25.0" text-anchor="middle" stroke="#fff" stroke-width="3.4" stroke-linejoin="round">aerobic electron transport chain</text>
<text x="889.00" y="24.50" font-size="25.0" stroke="#000" stroke-width="0.15" text-anchor="middle">aerobic electron transport chain</text>
<text x="1209.25" y="60.55" font-size="25.0" text-anchor="middle" stroke="#fff" stroke-width="3.4" stroke-linejoin="round">ribonucleoprotein complex biogenesis</text>
<text x="1209.25" y="60.55" font-size="25.0" stroke="#000" stroke-width="0.15" text-anchor="middle">ribonucleoprotein complex biogenesis</text>
<text x="726.55" y="119.45" font-size="25.0" text-anchor="middle" stroke="#fff" stroke-width="3.4" stroke-linejoin="round">respiratory electron transport chain</text>
<text x="726.55" y="119.45" font-size="25.0" stroke="#000" stroke-width="0.15" text-anchor="middle">respiratory electron transport chain</text>
<text x="1062.60" y="134.90" font-size="25.0" text-anchor="middle" stroke="#fff" stroke-width="3.4" stroke-linejoin="round">ATP metabolic process</text>
<text x="1062.60" y="134.90" font-size="25.0" stroke="#000" stroke-width="0.15" text-anchor="middle">ATP metabolic process</text>
<text x="1167.40" y="192.90" font-size="25.0" text-anchor="middle" stroke="#fff" stroke-width="3.4" stroke-linejoin="round">ATP synthesis coupled electron transport</text>
<text x="1167.40" y="192.90" font-size="25.0" stroke="#000" stroke-width="0.15" text-anchor="middle">ATP synthesis coupled electron transport</text>
<text x="786.25" y="216.90" font-size="25.0" text-anchor="middle" stroke="#fff" stroke-width="3.4" stroke-linejoin="round">oxidative phosphorylation</text>
<text x="786.25" y="216.90" font-size="25.0" stroke="#000" stroke-width="0.15" text-anchor="middle">oxidative phosphorylation</text>
<text x="1226.75" y="231.00" font-size="25.0" text-anchor="middle" stroke="#fff" stroke-width="3.4" stroke-linejoin="round">ribosomal large subunit biogenesis</text>
<text x="1226.75" y="231.00" font-size="25.0" stroke="#000" stroke-width="0.15" text-anchor="middle">ribosomal large subunit biogenesis</text>
<text x="865.75" y="353.40" font-size="25.0" text-anchor="middle" stroke="#fff" stroke-width="3.4" stroke-linejoin="round">NADH dehydrogenase complex assembly</text>
<text x="865.75" y="353.40" font-size="25.0" stroke="#000" stroke-width="0.15" text-anchor="middle">NADH dehydrogenase complex assembly</text>
<text x="1269.50" y="360.70" font-size="25.0" text-anchor="middle" stroke="#fff" stroke-width="3.4" stroke-linejoin="round">ribonucleoprotein complex assembly</text>
<text x="1269.50" y="360.70" font-size="25.0" stroke="#000" stroke-width="0.15" text-anchor="middle">ribonucleoprotein complex assembly</text>
<text x="664.12" y="386.05" font-size="25.0" text-anchor="middle" stroke="#fff" stroke-width="3.4" stroke-linejoin="round">electron transport chain</text>
<text x="664.12" y="386.05" font-size="25.0" stroke="#000" stroke-width="0.15" text-anchor="middle">electron transport chain</text>
<text x="856.38" y="417.00" font-size="25.0" text-anchor="middle" stroke="#fff" stroke-width="3.4" stroke-linejoin="round">mitochondrial respiratory chain complex assembly</text>
<text x="856.38" y="417.00" font-size="25.0" stroke="#000" stroke-width="0.15" text-anchor="middle">mitochondrial respiratory chain complex assembly</text>
<text x="1185.88" y="461.30" font-size="25.0" text-anchor="middle" stroke="#fff" stroke-width="3.4" stroke-linejoin="round">mitochondrial electron transport, NADH to ubiquinone</text>
<text x="1185.88" y="461.30" font-size="25.0" stroke="#000" stroke-width="0.15" text-anchor="middle">mitochondrial electron transport, NADH to ubiquinone</text>
<text x="816.93" y="461.70" font-size="25.0" text-anchor="middle" stroke="#fff" stroke-width="3.4" stroke-linejoin="round">mitochondrial respiratory chain complex I assembly</text>
<text x="816.93" y="461.70" font-size="25.0" stroke="#000" stroke-width="0.15" text-anchor="middle">mitochondrial respiratory chain complex I assembly</text>
<text x="1312.44" y="531.35" font-size="25.0" text-anchor="middle" stroke="#fff" stroke-width="3.4" stroke-linejoin="round">ribosome biogenesis</text>
<text x="1312.44" y="531.35" font-size="25.0" stroke="#000" stroke-width="0.15" text-anchor="middle">ribosome biogenesis</text>
<text x="735.52" y="617.60" font-size="25.0" text-anchor="middle" stroke="#fff" stroke-width="3.4" stroke-linejoin="round">aerobic respiration</text>
<text x="735.52" y="617.60" font-size="25.0" stroke="#000" stroke-width="0.15" text-anchor="middle">aerobic respiration</text>
<text x="1356.25" y="634.20" font-size="25.0" text-anchor="middle" stroke="#fff" stroke-width="3.4" stroke-linejoin="round">cytoplasmic translation</text>
<text x="1356.25" y="634.20" font-size="25.0" stroke="#000" stroke-width="0.15" text-anchor="middle">cytoplasmic translation</text>
<text x="1174.30" y="670.80" font-size="25.0" text-anchor="middle" stroke="#fff" stroke-width="3.4" stroke-linejoin="round">cellular respiration</text>
<text x="1174.30" y="670.80" font-size="25.0" stroke="#000" stroke-width="0.15" text-anchor="middle">cellular respiration</text>
<text x="795.55" y="679.60" font-size="25.0" text-anchor="middle" stroke="#fff" stroke-width="3.4" stroke-linejoin="round">generation of precursor metabolites and energy</text>
<text x="795.55" y="679.60" font-size="25.0" stroke="#000" stroke-width="0.15" text-anchor="middle">generation of precursor metabolites and energy</text>
<text x="916.05" y="735.40" font-size="25.0" text-anchor="middle" stroke="#fff" stroke-width="3.4" stroke-linejoin="round">energy derivation by oxidation of organic compounds</text>
<text x="916.05" y="735.40" font-size="25.0" stroke="#000" stroke-width="0.15" text-anchor="middle">energy derivation by oxidation of organic compounds</text>
<text x="1004.40" y="800.60" font-size="25.0" text-anchor="middle" stroke="#fff" stroke-width="3.4" stroke-linejoin="round">mitochondrial ATP synthesis coupled electron transport</text>
<text x="1004.40" y="800.60" font-size="25.0" stroke="#000" stroke-width="0.15" text-anchor="middle">mitochondrial ATP synthesis coupled electron transport</text>
<g stroke="#ababab" stroke-opacity="0.8" stroke-linecap="butt"><line x1="753.5" y1="1003.1" x2="926.1" y2="1023.8" stroke-width="8"/><line x1="753.5" y1="1003.1" x2="1107.7" y2="1073.9" stroke-width="8"/><line x1="753.5" y1="1003.1" x2="767.3" y2="1169.5" stroke-width="8"/><line x1="753.5" y1="1003.1" x2="615.0" y2="1229.9" stroke-width="8"/><line x1="753.5" y1="1003.1" x2="1192.2" y2="1249.0" stroke-width="8"/><line x1="753.5" y1="1003.1" x2="924.4" y2="1285.5" stroke-width="8"/><line x1="753.5" y1="1003.1" x2="718.7" y2="1383.5" stroke-width="8"/><line x1="753.5" y1="1003.1" x2="1112.5" y2="1448.3" stroke-width="8"/><line x1="753.5" y1="1003.1" x2="923.0" y2="1464.6" stroke-width="8"/><line x1="753.5" y1="1003.1" x2="752.8" y2="1560.0" stroke-width="8"/><line x1="753.5" y1="1003.1" x2="983.1" y2="1626.2" stroke-width="8"/><line x1="926.1" y1="1023.8" x2="1107.7" y2="1073.9" stroke-width="8"/><line x1="926.1" y1="1023.8" x2="767.3" y2="1169.5" stroke-width="8"/><line x1="926.1" y1="1023.8" x2="615.0" y2="1229.9" stroke-width="8"/><line x1="926.1" y1="1023.8" x2="1192.2" y2="1249.0" stroke-width="8"/><line x1="926.1" y1="1023.8" x2="924.4" y2="1285.5" stroke-width="8"/><line x1="926.1" y1="1023.8" x2="718.7" y2="1383.5" stroke-width="8"/><line x1="926.1" y1="1023.8" x2="1112.5" y2="1448.3" stroke-width="8"/><line x1="926.1" y1="1023.8" x2="923.0" y2="1464.6" stroke-width="8"/><line x1="926.1" y1="1023.8" x2="752.8" y2="1560.0" stroke-width="8"/><line x1="926.1" y1="1023.8" x2="983.1" y2="1626.2" stroke-width="8"/><line x1="1107.7" y1="1073.9" x2="767.3" y2="1169.5" stroke-width="8"/><line x1="1107.7" y1="1073.9" x2="615.0" y2="1229.9" stroke-width="8"/><line x1="1107.7" y1="1073.9" x2="1192.2" y2="1249.0" stroke-width="8"/><line x1="1107.7" y1="1073.9" x2="924.4" y2="1285.5" stroke-width="8"/><line x1="1107.7" y1="1073.9" x2="718.7" y2="1383.5" stroke-width="8"/><line x1="1107.7" y1="1073.9" x2="1112.5" y2="1448.3" stroke-width="8"/><line x1="1107.7" y1="1073.9" x2="923.0" y2="1464.6" stroke-width="8"/><line x1="1107.7" y1="1073.9" x2="752.8" y2="1560.0" stroke-width="8"/><line x1="1107.7" y1="1073.9" x2="983.1" y2="1626.2" stroke-width="8"/><line x1="767.3" y1="1169.5" x2="615.0" y2="1229.9" stroke-width="8"/><line x1="767.3" y1="1169.5" x2="1192.2" y2="1249.0" stroke-width="8"/><line x1="767.3" y1="1169.5" x2="924.4" y2="1285.5" stroke-width="8"/><line x1="767.3" y1="1169.5" x2="718.7" y2="1383.5" stroke-width="8"/><line x1="767.3" y1="1169.5" x2="1112.5" y2="1448.3" stroke-width="8"/><line x1="767.3" y1="1169.5" x2="923.0" y2="1464.6" stroke-width="8"/><line x1="767.3" y1="1169.5" x2="752.8" y2="1560.0" stroke-width="8"/><line x1="767.3" y1="1169.5" x2="983.1" y2="1626.2" stroke-width="8"/><line x1="615.0" y1="1229.9" x2="1192.2" y2="1249.0" stroke-width="8"/><line x1="615.0" y1="1229.9" x2="924.4" y2="1285.5" stroke-width="8"/><line x1="615.0" y1="1229.9" x2="718.7" y2="1383.5" stroke-width="8"/><line x1="615.0" y1="1229.9" x2="1112.5" y2="1448.3" stroke-width="8"/><line x1="615.0" y1="1229.9" x2="923.0" y2="1464.6" stroke-width="8"/><line x1="615.0" y1="1229.9" x2="752.8" y2="1560.0" stroke-width="8"/><line x1="615.0" y1="1229.9" x2="983.1" y2="1626.2" stroke-width="8"/><line x1="1192.2" y1="1249.0" x2="924.4" y2="1285.5" stroke-width="8"/><line x1="1192.2" y1="1249.0" x2="718.7" y2="1383.5" stroke-width="8"/><line x1="1192.2" y1="1249.0" x2="1112.5" y2="1448.3" stroke-width="8"/><line x1="1192.2" y1="1249.0" x2="923.0" y2="1464.6" stroke-width="8"/><line x1="1192.2" y1="1249.0" x2="752.8" y2="1560.0" stroke-width="8"/><line x1="1192.2" y1="1249.0" x2="983.1" y2="1626.2" stroke-width="8"/><line x1="924.4" y1="1285.5" x2="718.7" y2="1383.5" stroke-width="8"/><line x1="924.4" y1="1285.5" x2="1112.5" y2="1448.3" stroke-width="8"/><line x1="924.4" y1="1285.5" x2="923.0" y2="1464.6" stroke-width="8"/><line x1="924.4" y1="1285.5" x2="752.8" y2="1560.0" stroke-width="8"/><line x1="924.4" y1="1285.5" x2="983.1" y2="1626.2" stroke-width="8"/><line x1="718.7" y1="1383.5" x2="1112.5" y2="1448.3" stroke-width="8"/><line x1="718.7" y1="1383.5" x2="923.0" y2="1464.6" stroke-width="8"/><line x1="718.7" y1="1383.5" x2="752.8" y2="1560.0" stroke-width="8"/><line x1="718.7" y1="1383.5" x2="983.1" y2="1626.2" stroke-width="8"/><line x1="1112.5" y1="1448.3" x2="923.0" y2="1464.6" stroke-width="8"/><line x1="1112.5" y1="1448.3" x2="752.8" y2="1560.0" stroke-width="8"/><line x1="1112.5" y1="1448.3" x2="983.1" y2="1626.2" stroke-width="8"/><line x1="923.0" y1="1464.6" x2="752.8" y2="1560.0" stroke-width="8"/><line x1="923.0" y1="1464.6" x2="983.1" y2="1626.2" stroke-width="8"/><line x1="752.8" y1="1560.0" x2="983.1" y2="1626.2" stroke-width="8"/><line x1="1092.4" y1="873.0" x2="1281.5" y2="1554.0" stroke-width="7.7"/><line x1="1335.0" y1="1061.1" x2="1389.2" y2="1317.4" stroke-width="6.5"/></g>
<circle cx="753.50" cy="1003.10" r="11.70" fill="#ec1e24" stroke="#111" stroke-width="1.3"/>
<circle cx="926.10" cy="1023.80" r="11.90" fill="#ec1e24" stroke="#111" stroke-width="1.3"/>
<circle cx="1107.70" cy="1073.90" r="11.10" fill="#ec1e24" stroke="#111" stroke-width="1.3"/>
<circle cx="767.30" cy="1169.50" r="10.90" fill="#ec1e24" stroke="#111" stroke-width="1.3"/>
<circle cx="615.00" cy="1229.90" r="10.90" fill="#ec1e24" stroke="#111" stroke-width="1.3"/>
<circle cx="1192.20" cy="1249.00" r="11.50" fill="#ec1e24" stroke="#111" stroke-width="1.3"/>
<circle cx="924.40" cy="1285.50" r="9.70" fill="#ec1e24" stroke="#111" stroke-width="1.3"/>
<circle cx="718.70" cy="1383.50" r="12.10" fill="#ec1e24" stroke="#111" stroke-width="1.3"/>
<circle cx="1112.50" cy="1448.30" r="11.60" fill="#ec1e24" stroke="#111" stroke-width="1.3"/>
<circle cx="923.00" cy="1464.60" r="11.50" fill="#ec1e24" stroke="#111" stroke-width="1.3"/>
<circle cx="752.80" cy="1560.00" r="11.50" fill="#ec1e24" stroke="#111" stroke-width="1.3"/>
<circle cx="983.10" cy="1626.20" r="12.00" fill="#ec1e24" stroke="#111" stroke-width="1.3"/>
<circle cx="1092.40" cy="873.00" r="14.80" fill="#ec1e24" stroke="#111" stroke-width="1.3"/>
<circle cx="1281.50" cy="1554.00" r="14.60" fill="#ec1e24" stroke="#111" stroke-width="1.3"/>
<circle cx="1335.00" cy="1061.10" r="4.00" fill="#3b54a5" stroke="#111" stroke-width="1.3"/>
<circle cx="1389.20" cy="1317.40" r="7.90" fill="#a43196" stroke="#111" stroke-width="1.3"/>
<text x="1075.55" y="898.40" font-size="23.48" text-anchor="middle" stroke="#fff" stroke-width="3.4" stroke-linejoin="round">Coronavirus disease − COVID−19</text>
<text x="1075.55" y="898.40" font-size="23.48" stroke="#000" stroke-width="0.15" text-anchor="middle">Coronavirus disease − COVID−19</text>
<text x="736.34" y="995.10" font-size="23.48" text-anchor="middle" stroke="#fff" stroke-width="3.4" stroke-linejoin="round">Oxidative phosphorylation</text>
<text x="736.34" y="995.10" font-size="23.48" stroke="#000" stroke-width="0.15" text-anchor="middle">Oxidative phosphorylation</text>
<text x="907.37" y="1049.00" font-size="23.48" text-anchor="middle" stroke="#fff" stroke-width="3.4" stroke-linejoin="round">Huntington disease</text>
<text x="907.37" y="1049.00" font-size="23.48" stroke="#000" stroke-width="0.15" text-anchor="middle">Huntington disease</text>
<text x="1181.90" y="1062.50" font-size="23.48" text-anchor="middle" stroke="#fff" stroke-width="3.4" stroke-linejoin="round">Systemic lupus erythematosus</text>
<text x="1181.90" y="1062.50" font-size="23.48" stroke="#000" stroke-width="0.15" text-anchor="middle">Systemic lupus erythematosus</text>
<text x="1090.39" y="1099.05" font-size="23.48" text-anchor="middle" stroke="#fff" stroke-width="3.4" stroke-linejoin="round">Prion disease</text>
<text x="1090.39" y="1099.05" font-size="23.48" stroke="#000" stroke-width="0.15" text-anchor="middle">Prion disease</text>
<text x="982.50" y="1178.40" font-size="23.48" text-anchor="middle" stroke="#fff" stroke-width="3.4" stroke-linejoin="round">Chemical carcinogenesis − reactive oxygen species</text>
<text x="982.50" y="1178.40" font-size="23.48" stroke="#000" stroke-width="0.15" text-anchor="middle">Chemical carcinogenesis − reactive oxygen species</text>
<text x="792.29" y="1238.60" font-size="23.48" text-anchor="middle" stroke="#fff" stroke-width="3.4" stroke-linejoin="round">Non−alcoholic fatty liver disease</text>
<text x="792.29" y="1238.60" font-size="23.48" stroke="#000" stroke-width="0.15" text-anchor="middle">Non−alcoholic fatty liver disease</text>
<text x="1209.30" y="1240.30" font-size="23.48" text-anchor="middle" stroke="#fff" stroke-width="3.4" stroke-linejoin="round">Diabetic cardiomyopathy</text>
<text x="1209.30" y="1240.30" font-size="23.48" stroke="#000" stroke-width="0.15" text-anchor="middle">Diabetic cardiomyopathy</text>
<text x="942.15" y="1276.40" font-size="23.48" text-anchor="middle" stroke="#fff" stroke-width="3.4" stroke-linejoin="round">Retrograde endocannabinoid signaling</text>
<text x="942.15" y="1276.40" font-size="23.48" stroke="#000" stroke-width="0.15" text-anchor="middle">Retrograde endocannabinoid signaling</text>
<text x="1183.40" y="1325.40" font-size="23.48" text-anchor="middle" stroke="#fff" stroke-width="3.4" stroke-linejoin="round">Neutrophil extracellular trap formation</text>
<text x="1183.40" y="1325.40" font-size="23.48" stroke="#000" stroke-width="0.15" text-anchor="middle">Neutrophil extracellular trap formation</text>
<text x="734.89" y="1373.30" font-size="23.48" text-anchor="middle" stroke="#fff" stroke-width="3.4" stroke-linejoin="round">Parkinson disease</text>
<text x="734.89" y="1373.30" font-size="23.48" stroke="#000" stroke-width="0.15" text-anchor="middle">Parkinson disease</text>
<text x="1129.00" y="1440.90" font-size="23.48" text-anchor="middle" stroke="#fff" stroke-width="3.4" stroke-linejoin="round">Amyotrophic lateral sclerosis</text>
<text x="1129.00" y="1440.90" font-size="23.48" stroke="#000" stroke-width="0.15" text-anchor="middle">Amyotrophic lateral sclerosis</text>
<text x="905.77" y="1489.15" font-size="23.48" text-anchor="middle" stroke="#fff" stroke-width="3.4" stroke-linejoin="round">Thermogenesis</text>
<text x="905.77" y="1489.15" font-size="23.48" stroke="#000" stroke-width="0.15" text-anchor="middle">Thermogenesis</text>
<text x="1299.76" y="1542.80" font-size="23.48" text-anchor="middle" stroke="#fff" stroke-width="3.4" stroke-linejoin="round">Ribosome</text>
<text x="1299.76" y="1542.80" font-size="23.48" stroke="#000" stroke-width="0.15" text-anchor="middle">Ribosome</text>
<text x="963.60" y="1570.60" font-size="23.48" text-anchor="middle" stroke="#fff" stroke-width="3.4" stroke-linejoin="round">Pathways of neurodegeneration − multiple diseases</text>
<text x="963.60" y="1570.60" font-size="23.48" stroke="#000" stroke-width="0.15" text-anchor="middle">Pathways of neurodegeneration − multiple diseases</text>
<text x="965.48" y="1651.00" font-size="23.48" text-anchor="middle" stroke="#fff" stroke-width="3.4" stroke-linejoin="round">Alzheimer disease</text>
<text x="965.48" y="1651.00" font-size="23.48" stroke="#000" stroke-width="0.15" text-anchor="middle">Alzheimer disease</text>
<text x="1519.70" y="227.70" font-size="17.7" fill="#111">number of genes</text>
<rect x="1519.70" y="239.90" width="38.30" height="135.00" fill="#f4f4f4"/>
<circle cx="1538.85" cy="254.50" r="8.20" fill="none" stroke="#222" stroke-width="1.4"/>
<text x="1566.80" y="260.73" font-size="17.3" fill="#111">5</text>
<circle cx="1538.85" cy="285.50" r="11.40" fill="none" stroke="#222" stroke-width="1.4"/>
<text x="1566.80" y="291.73" font-size="17.3" fill="#111">10</text>
<circle cx="1538.85" cy="318.70" r="13.40" fill="none" stroke="#222" stroke-width="1.4"/>
<text x="1566.80" y="324.93" font-size="17.3" fill="#111">15</text>
<circle cx="1538.85" cy="355.90" r="14.90" fill="none" stroke="#222" stroke-width="1.4"/>
<text x="1566.80" y="362.13" font-size="17.3" fill="#111">20</text>
<text x="1519.70" y="428.80" font-size="17.3" fill="#111">p.adjust</text>
<rect x="1519.00" y="440.10" width="31.40" height="154.70" fill="url(#gB)"/>
<line x1="1519.00" y1="449.00" x2="1525.30" y2="449.00" stroke="#fff" stroke-width="1.0"/>
<line x1="1544.10" y1="449.00" x2="1550.40" y2="449.00" stroke="#fff" stroke-width="1.0"/>
<text x="1559.60" y="455.20" font-size="17.3" fill="#111">0.025</text>
<line x1="1519.00" y1="477.80" x2="1525.30" y2="477.80" stroke="#fff" stroke-width="1.0"/>
<line x1="1544.10" y1="477.80" x2="1550.40" y2="477.80" stroke="#fff" stroke-width="1.0"/>
<text x="1559.60" y="484.00" font-size="17.3" fill="#111">0.020</text>
<line x1="1519.00" y1="506.80" x2="1525.30" y2="506.80" stroke="#fff" stroke-width="1.0"/>
<line x1="1544.10" y1="506.80" x2="1550.40" y2="506.80" stroke="#fff" stroke-width="1.0"/>
<text x="1559.60" y="513.00" font-size="17.3" fill="#111">0.015</text>
<line x1="1519.00" y1="535.70" x2="1525.30" y2="535.70" stroke="#fff" stroke-width="1.0"/>
<line x1="1544.10" y1="535.70" x2="1550.40" y2="535.70" stroke="#fff" stroke-width="1.0"/>
<text x="1559.60" y="541.90" font-size="17.3" fill="#111">0.010</text>
<line x1="1519.00" y1="564.60" x2="1525.30" y2="564.60" stroke="#fff" stroke-width="1.0"/>
<line x1="1544.10" y1="564.60" x2="1550.40" y2="564.60" stroke="#fff" stroke-width="1.0"/>
<text x="1559.60" y="570.80" font-size="17.3" fill="#111">0.005</text>
<text x="1455.80" y="1083.50" font-size="16.8" fill="#111">number of genes</text>
<rect x="1455.80" y="1094.30" width="36.00" height="127.60" fill="#f4f4f4"/>
<circle cx="1473.80" cy="1109.10" r="7.90" fill="none" stroke="#222" stroke-width="1.4"/>
<text x="1500.00" y="1115.15" font-size="16.8" fill="#111">5</text>
<circle cx="1473.80" cy="1138.10" r="10.80" fill="none" stroke="#222" stroke-width="1.4"/>
<text x="1500.00" y="1144.15" font-size="16.8" fill="#111">10</text>
<circle cx="1473.80" cy="1169.20" r="12.50" fill="none" stroke="#222" stroke-width="1.4"/>
<text x="1500.00" y="1175.25" font-size="16.8" fill="#111">15</text>
<circle cx="1473.80" cy="1203.90" r="14.10" fill="none" stroke="#222" stroke-width="1.4"/>
<text x="1500.00" y="1209.95" font-size="16.8" fill="#111">20</text>
<text x="1455.80" y="1273.00" font-size="16.8" fill="#111">p.adjust</text>
<rect x="1455.60" y="1284.10" width="29.00" height="145.30" fill="url(#gD)"/>
<line x1="1455.60" y1="1308.00" x2="1461.40" y2="1308.00" stroke="#fff" stroke-width="1.0"/>
<line x1="1478.80" y1="1308.00" x2="1484.60" y2="1308.00" stroke="#fff" stroke-width="1.0"/>
<text x="1492.40" y="1314.00" font-size="16.8" fill="#111">0.04</text>
<line x1="1455.60" y1="1338.40" x2="1461.40" y2="1338.40" stroke="#fff" stroke-width="1.0"/>
<line x1="1478.80" y1="1338.40" x2="1484.60" y2="1338.40" stroke="#fff" stroke-width="1.0"/>
<text x="1492.40" y="1344.40" font-size="16.8" fill="#111">0.03</text>
<line x1="1455.60" y1="1368.30" x2="1461.40" y2="1368.30" stroke="#fff" stroke-width="1.0"/>
<line x1="1478.80" y1="1368.30" x2="1484.60" y2="1368.30" stroke="#fff" stroke-width="1.0"/>
<text x="1492.40" y="1374.30" font-size="16.8" fill="#111">0.02</text>
<line x1="1455.60" y1="1399.00" x2="1461.40" y2="1399.00" stroke="#fff" stroke-width="1.0"/>
<line x1="1478.80" y1="1399.00" x2="1484.60" y2="1399.00" stroke="#fff" stroke-width="1.0"/>
<text x="1492.40" y="1405.00" font-size="16.8" fill="#111">0.01</text></svg>
</body></html>
